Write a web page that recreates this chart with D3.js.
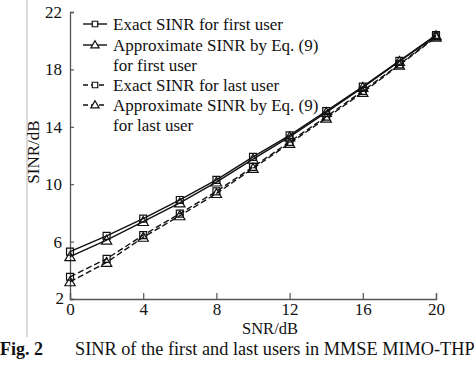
<!DOCTYPE html>
<html><head><meta charset="utf-8">
<script src="https://cdn.jsdelivr.net/npm/d3@7"></script>
<style>body{margin:0;background:#fff}svg{display:block}svg text{font-family:"Liberation Serif","Times New Roman",serif !important}</style>
</head><body><svg id="c" width="474" height="366"></svg>
<script>
const snr = [0,2,4,6,8,10,12,14,16,18,20];
const exactFirst  = [5.3, 6.4, 7.6, 8.9, 10.3, 11.9, 13.4, 15.1, 16.8, 18.6, 20.4];
const approxFirst = [4.95, 6.1, 7.4, 8.7, 10.15, 11.75, 13.3, 15.0, 16.75, 18.55, 20.35];
const exactLast   = [3.55, 4.8, 6.45, 7.95, 9.5, 11.2, 12.95, 14.7, 16.5, 18.35, 20.3];
const approxLast  = [3.2, 4.55, 6.3, 7.8, 9.35, 11.1, 12.85, 14.6, 16.4, 18.3, 20.25];
const xTicks = [0,4,8,12,16,20];
const yTicks = [2,6,10,14,18,22];
const legendLabels = [["Exact  SINR for first user"],["Approximate SINR by Eq. (9)","for first user"],["Exact SINR for last user"],["Approximate SINR by Eq. (9)","for last user"]];

const svg = d3.select("#c");
const x = d3.scaleLinear().domain([0,20]).range([70,436]);
const y = d3.scaleLinear().domain([2,22]).range([299,12]);

// page border artifact
svg.append("line").attr("x1",27).attr("x2",27).attr("y1",0).attr("y2",337).attr("stroke","#d0d0d0").attr("stroke-width",1.5);

const axisCol = "#555";
const gx = svg.append("g").attr("transform","translate(0,299)").call(d3.axisBottom(x).tickValues(xTicks).tickSize(-6).tickPadding(11));
const gy = svg.append("g").attr("transform","translate(70,0)").call(d3.axisLeft(y).tickValues(yTicks).tickSize(-4).tickPadding(8).tickFormat(d=>d===2?"":d));
[gx,gy].forEach(g=>{g.attr("font-size",17);g.select(".domain").attr("stroke",axisCol).attr("stroke-width",1.3);g.selectAll(".tick line").attr("stroke",axisCol).attr("stroke-width",1.2);g.selectAll("text").attr("fill","#111");});
gx.selectAll("text").attr("dy","0.3em");
gy.selectAll("text").attr("x",-8);
svg.append("text").attr("x",64).attr("y",304).attr("text-anchor","end").attr("font-size",17).attr("fill","#111").text("2");

const series = [
 {v:exactFirst, dash:null, m:"sq"},
 {v:approxFirst, dash:null, m:"tri"},
 {v:exactLast, dash:"6,3", m:"sq"},
 {v:approxLast, dash:"6,3", m:"tri"}
];
const line = d3.line().x((d,i)=>x(snr[i])).y(d=>y(d));
const sq = d3.symbol().type(d3.symbolSquare).size(48);
const tri = d3.symbol().type(d3.symbolTriangle).size(46);
series.forEach(s=>{
  svg.append("path").attr("d",line(s.v)).attr("fill","none").attr("stroke","#111").attr("stroke-width",1.4).attr("stroke-dasharray",s.dash);
});
series.forEach(s=>{
  svg.selectAll(null).data(s.v).enter().append("path")
    .attr("transform",(d,i)=>`translate(${x(snr[i])},${y(d)+(s.m==="tri"?1:0)})`)
    .attr("d",s.m==="sq"?sq():tri()).attr("fill","none").attr("stroke","#111").attr("stroke-width",1.2);
});

// legend
const rowsY = [24,45,85,105];
const lg = svg.append("g");
series.forEach((s,i)=>{
  const yy = rowsY[i];
  lg.append("line").attr("x1",83).attr("x2",107).attr("y1",yy).attr("y2",yy).attr("stroke","#111").attr("stroke-width",1.4).attr("stroke-dasharray",s.dash?"5,3":null);
  lg.append("path").attr("transform",`translate(95,${yy+(s.m==="tri"?0.5:0)})`).attr("d",(s.m==="sq"?d3.symbol().type(d3.symbolSquare).size(30):d3.symbol().type(d3.symbolTriangle).size(30))()).attr("fill","#fff").attr("stroke","#111").attr("stroke-width",1.2);
  legendLabels[i].forEach((t,j)=>{
    lg.append("text").attr("x",113).attr("y",yy+6+j*20).attr("font-size",17).attr("fill","#111").text(t);
  });
});

// axis titles
svg.append("text").attr("x",270).attr("y",334).attr("text-anchor","middle").attr("font-size",16.5).attr("fill","#111").text("SNR/dB");
svg.append("text").attr("transform","translate(39,152) rotate(-90)").attr("text-anchor","middle").attr("font-size",17).attr("fill","#111").text("SINR/dB");

// caption
svg.append("text").attr("x",0).attr("y",355).attr("font-size",18).attr("font-weight","bold").attr("fill","#111").text("Fig. 2");
svg.append("text").attr("x",75).attr("y",355).attr("font-size",18.3).attr("fill","#111").text("SINR of the first and last users in MMSE MIMO-THP");
</script></body></html>
